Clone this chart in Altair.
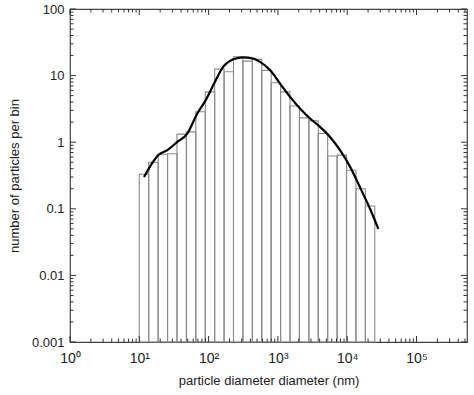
import math
import altair as alt
import pandas as pd

# bin edges (nm) of the histogram, log-spaced
bin_edges = [10, 13.67, 18.70, 25.57, 34.96, 47.81, 65.38, 89.40, 122.3, 167.2,
             228.6, 312.6, 427.4, 584.5, 799.3, 1093, 1494, 2043, 2794, 3821,
             5224, 7144, 9768, 13360, 18270, 24980]
# particles per bin
bin_counts = [0.33, 0.50, 0.66, 0.67, 1.32, 1.43, 2.86, 5.7, 12.5, 11.4,
              19.2, 16.5, 17.5, 12.0, 7.8, 5.7, 3.5, 2.32, 2.09, 1.35,
              0.62, 0.64, 0.38, 0.20, 0.11]

# smooth fitted curve
curve_x = [11.7, 18.8, 25.4, 35.3, 49.3, 68.7, 90.8, 120, 163, 227, 317, 442, 552,
           769, 1072, 1496, 2084, 2904, 4052, 5648, 7872, 10970, 15300, 21330, 28100]
curve_y = [0.30, 0.64, 0.76, 1.01, 1.35, 2.70, 4.28, 7.6, 13.6, 17.6, 18.8, 18.0, 16.1,
           12.1, 7.6, 4.8, 3.21, 2.27, 1.70, 1.20, 0.76, 0.43, 0.21, 0.10, 0.050]

# axis tick positions (decades are labelled, the 2..9 steps are minor ticks)
x_ticks = [1, 2, 3, 4, 5, 6, 7, 8, 9, 10, 20, 30, 40, 50, 60, 70, 80, 90,
           100, 200, 300, 400, 500, 600, 700, 800, 900,
           1000, 2000, 3000, 4000, 5000, 6000, 7000, 8000, 9000,
           10000, 20000, 30000, 40000, 50000, 60000, 70000, 80000, 90000,
           100000, 200000, 300000, 400000, 500000]
y_ticks = [0.001, 0.002, 0.003, 0.004, 0.005, 0.006, 0.007, 0.008, 0.009,
           0.01, 0.02, 0.03, 0.04, 0.05, 0.06, 0.07, 0.08, 0.09,
           0.1, 0.2, 0.3, 0.4, 0.5, 0.6, 0.7, 0.8, 0.9,
           1, 2, 3, 4, 5, 6, 7, 8, 9, 10, 20, 30, 40, 50, 60, 70, 80, 90, 100]

X_MIN, X_MAX = 1, 535000
Y_MIN, Y_MAX = 0.001, 100

W, H = 397, 333
MAJ, MIN = 6, 3.5          # tick lengths in px
PX_PER_DEC_X = W / math.log10(X_MAX / X_MIN)
PX_PER_DEC_Y = H / math.log10(Y_MAX / Y_MIN)

bars = pd.DataFrame({"lo": bin_edges[:-1], "hi": bin_edges[1:], "n": bin_counts})
curve = pd.DataFrame({"d": curve_x, "n": curve_y})


def is_decade(v):
    return abs(math.log10(v) - round(math.log10(v))) < 0.01


# inward frame ticks as two-point line segments on all four edges
rows = []
tid = 0
for v in x_ticks:
    f = 10 ** ((MAJ if is_decade(v) else MIN) / PX_PER_DEC_Y)
    for y0, y1 in [(Y_MIN, Y_MIN * f), (Y_MAX, Y_MAX / f)]:
        rows += [{"id": tid, "k": 0, "xv": v, "yv": y0}, {"id": tid, "k": 1, "xv": v, "yv": y1}]
        tid += 1
for v in y_ticks:
    f = 10 ** ((MAJ if is_decade(v) else MIN) / PX_PER_DEC_X)
    for x0, x1 in [(X_MIN, X_MIN * f), (X_MAX, X_MAX / f)]:
        rows += [{"id": tid, "k": 0, "xv": x0, "yv": v}, {"id": tid, "k": 1, "xv": x1, "yv": v}]
        tid += 1
ticks = pd.DataFrame(rows)

FONT = "Liberation Sans"
xscale = alt.Scale(type="log", domain=[X_MIN, X_MAX])
yscale = alt.Scale(type="log", domain=[Y_MIN, Y_MAX])

IS_DEC = "abs(log(datum.value)/LN10 - round(log(datum.value)/LN10)) < 0.01"
sup = ("(" + IS_DEC + ") ? '10' + ['\u2070','\u00b9','\u00b2','\u00b3','\u2074','\u2075','\u2076']"
       "[round(log(datum.value)/LN10)] : ''")
ylab = "(" + IS_DEC + ") ? format(datum.value, '~g') : ''"

x_axis = alt.Axis(orient="bottom", values=x_ticks, labelExpr=sup, ticks=False,
                  domain=False, grid=False,
                  labelOverlap=False, labelFlush=False,
                  labelFontSize=14, labelPadding=9,
                  labelColor="#222", labelFont=FONT,
                  title="particle diameter diameter (nm)", titleFont=FONT,
                  titleFontSize=13, titleFontWeight="normal", titleColor="#222",
                  titlePadding=9)
y_axis = alt.Axis(orient="left", values=y_ticks, labelExpr=ylab, ticks=False,
                  domain=False, grid=False,
                  labelOverlap=False, labelFlush=False,
                  labelFontSize=13, labelPadding=6,
                  labelColor="#222", labelFont=FONT,
                  title="number of particles per bin", titleFont=FONT,
                  titleFontSize=13, titleFontWeight="normal", titleColor="#222",
                  titlePadding=10)

bars_layer = alt.Chart(bars).mark_rect(fill="white", fillOpacity=0, stroke="#8a8a8a",
                                       strokeWidth=1.1).encode(
    x=alt.X("lo:Q", scale=xscale, axis=x_axis),
    x2="hi:Q",
    y=alt.Y("n:Q", scale=yscale, axis=y_axis),
    y2=alt.Y2(datum=Y_MIN),
)

curve_layer = alt.Chart(curve).mark_line(color="black", strokeWidth=2.2, interpolate="monotone").encode(
    x=alt.X("d:Q", scale=xscale),
    y=alt.Y("n:Q", scale=yscale),
)

tick_layer = alt.Chart(ticks).mark_line(color="#333", strokeWidth=1).encode(
    x=alt.X("xv:Q", scale=xscale),
    y=alt.Y("yv:Q", scale=yscale),
    detail="id:N",
    order="k:O",
)

chart = alt.layer(bars_layer, curve_layer, tick_layer).properties(
    width=W, height=H,
    autosize=alt.AutoSizeParams(type="none"),
    padding={"left": 70, "top": 9, "right": 7, "bottom": 53},
    background="white",
).configure_view(stroke="#444", strokeWidth=1.2)

chart.save("out.html", embed_options={"renderer": "svg", "actions": False})
